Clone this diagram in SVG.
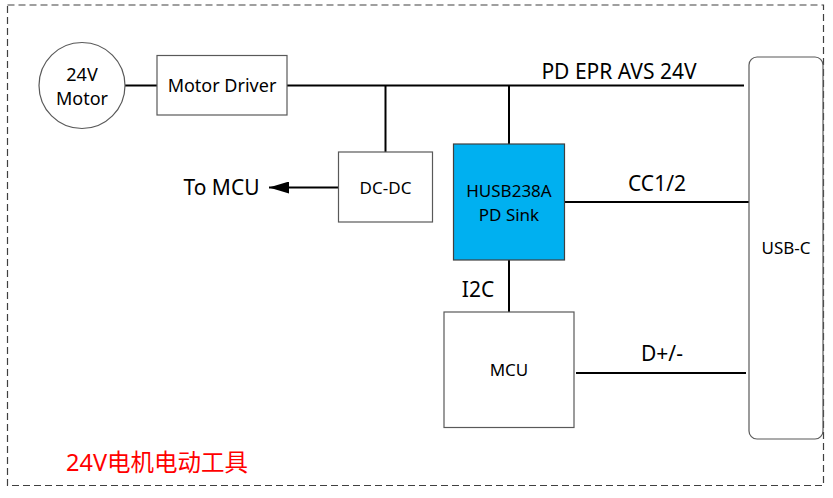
<svg xmlns="http://www.w3.org/2000/svg" width="833" height="498" viewBox="0 0 833 498">
<style>
.box{fill:#fff;stroke:#595959;stroke-width:1.2}
.wire{stroke:#000;stroke-width:2;fill:none}
.t{font-family:"Noto Sans","Open Sans",sans-serif;fill:#000;text-anchor:middle}
.s17{font-size:17px}
.s18{font-size:18px}
.s21{font-size:21px}
</style>
<defs>
<marker id="arr" markerWidth="20" markerHeight="12" refX="20" refY="6" orient="auto" markerUnits="userSpaceOnUse" viewBox="0 0 20 12">
<path d="M0,0 L20,6 L0,12 Z" fill="#000"/>
</marker>
</defs>
<rect width="833" height="498" fill="#fff"/>
<rect id="frame" x="7.5" y="5" width="816" height="480.5" fill="none" stroke="#404040" stroke-width="1.2" stroke-dasharray="7,4"/>
<g id="connectors">
<line class="wire" x1="125" y1="85.5" x2="157" y2="85.5"/>
<line class="wire" x1="287" y1="85.5" x2="744" y2="85.5"/>
<line class="wire" x1="385.5" y1="85.5" x2="385.5" y2="152"/>
<line class="wire" x1="509" y1="85.5" x2="509" y2="144"/>
<line class="wire" x1="338" y1="187.5" x2="269" y2="187.5" marker-end="url(#arr)"/>
<line class="wire" x1="564" y1="202" x2="749" y2="202"/>
<line class="wire" x1="509" y1="260" x2="509" y2="312"/>
<line class="wire" x1="576" y1="373" x2="746" y2="373"/>
</g>
<g id="motor">
<circle class="box" cx="82" cy="85.5" r="43"/>
<text class="t s18" x="82" y="80.5">24V</text>
<text class="t s18" x="82" y="104.5">Motor</text>
</g>
<g id="motor-driver">
<rect class="box" x="157" y="55.5" width="130" height="59.5"/>
<text class="t s18" x="222" y="92">Motor Driver</text>
</g>
<g id="dcdc">
<rect class="box" x="338.5" y="152" width="94" height="70"/>
<text class="t s17" x="385.5" y="193.5">DC-DC</text>
</g>
<g id="to-mcu">
<text class="t s21" x="221.5" y="195">To MCU</text>
</g>
<g id="husb238a">
<rect x="453.5" y="144" width="111" height="116" fill="#00B0F0" stroke="#404040" stroke-width="1.2"/>
<text class="t s17" x="509" y="197">HUSB238A</text>
<text class="t s17" x="509" y="221">PD Sink</text>
</g>
<g id="mcu">
<rect class="box" x="444" y="312" width="130" height="115.5"/>
<text class="t s17" x="509" y="376">MCU</text>
</g>
<g id="usbc">
<rect class="box" x="749" y="57" width="74" height="382" rx="8" ry="8"/>
<text class="t s17" x="786" y="253.5">USB-C</text>
</g>
<g id="labels">
<text class="t s21" x="619" y="78.5">PD EPR AVS 24V</text>
<text class="t s21" x="657" y="190.5">CC1/2</text>
<text class="t s21" x="478" y="296.5">I2C</text>
<text class="t s21" x="662" y="361">D+/-</text>
<text x="66" y="470.5" font-family="'Noto Sans','Noto Sans CJK SC',sans-serif" font-size="23.5" fill="#FF0000">24V电机电动工具</text>
</g>
</svg>
